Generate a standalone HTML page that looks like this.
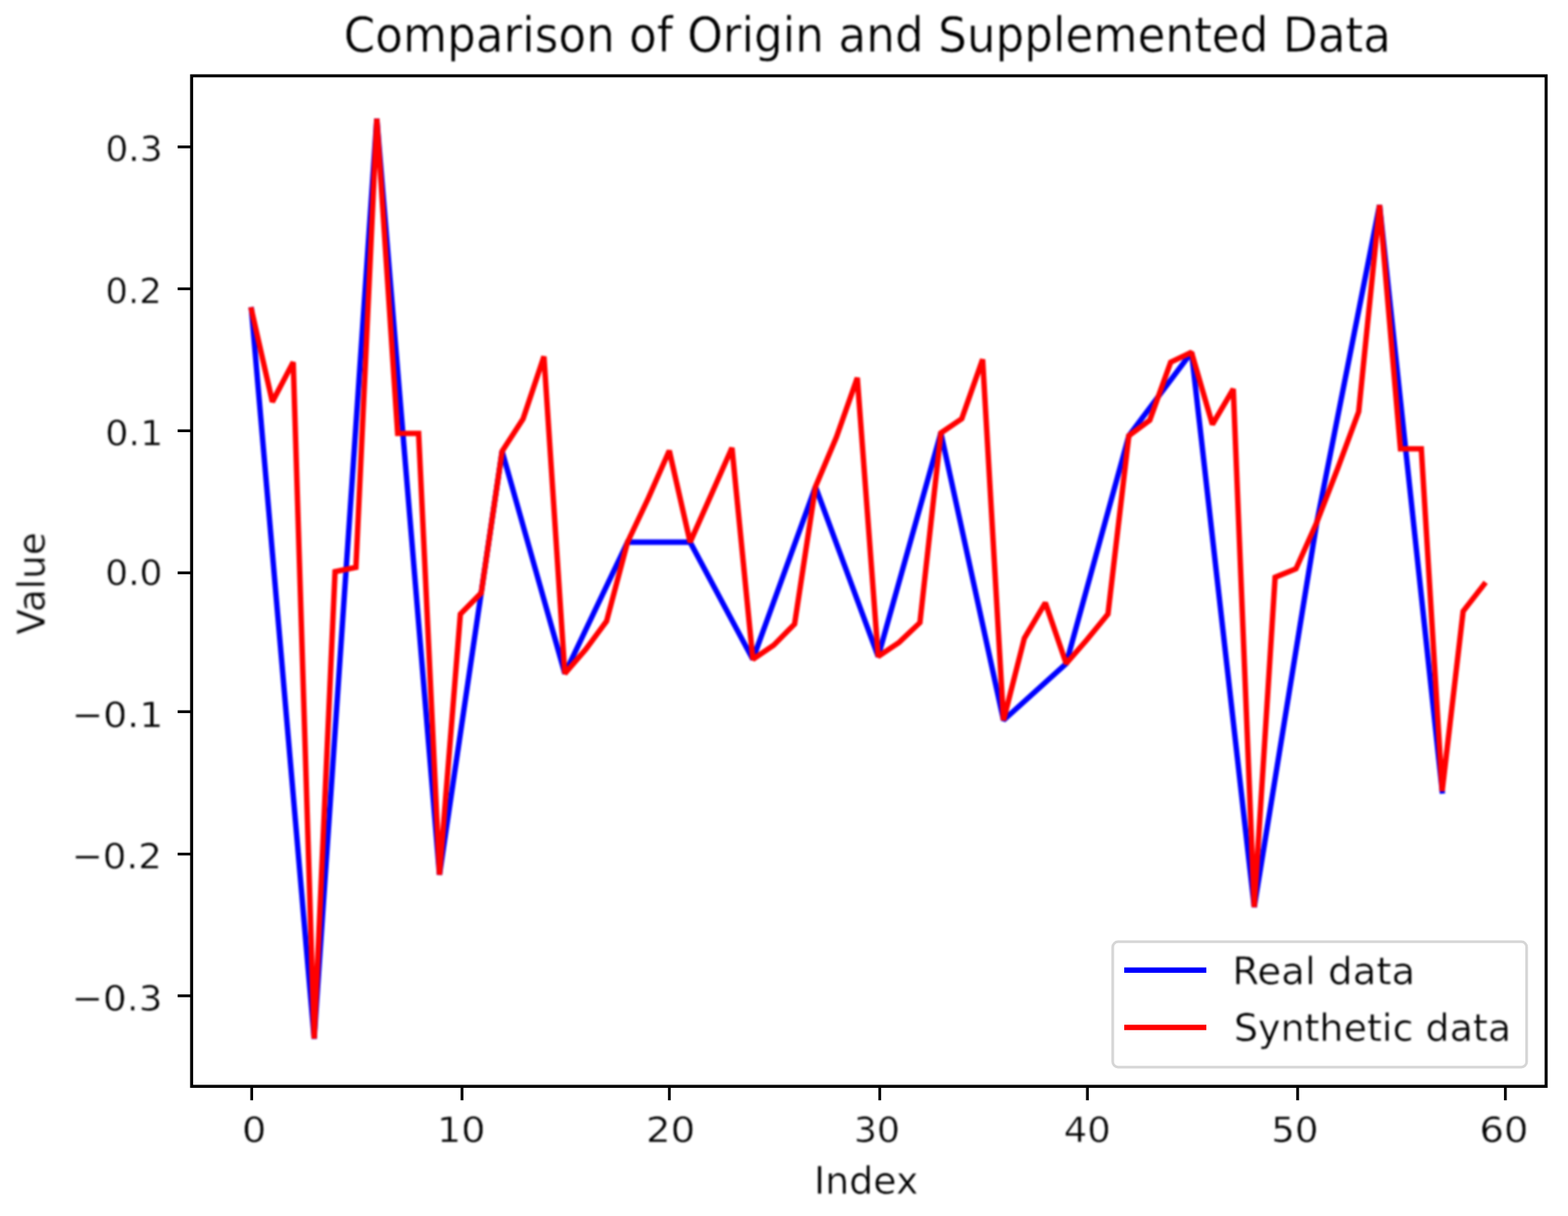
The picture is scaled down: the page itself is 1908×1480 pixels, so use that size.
<!DOCTYPE html>
<html lang="en">
<head>
<meta charset="utf-8">
<title>Comparison of Origin and Supplemented Data</title>
<style>
html,body{margin:0;padding:0;background:#fff;}
body{width:1908px;height:1480px;overflow:hidden;}
svg{display:block;}
text{font-family:"DejaVu Sans","Liberation Sans",sans-serif;fill:#000000;stroke:#ffffff;stroke-width:0.60px;stroke-linejoin:round;paint-order:fill stroke;}
</style>
</head>
<body>
<svg width="1908" height="1480" viewBox="0 0 1908 1480" role="img" aria-label="Comparison of Origin and Supplemented Data">
<defs>
<clipPath id="axclip"><rect x="233.20" y="92.30" width="1648.20" height="1229.90"/></clipPath>
<filter id="soft" filterUnits="userSpaceOnUse" x="-20" y="-20" width="1948" height="1520" color-interpolation-filters="sRGB"><feGaussianBlur stdDeviation="1.10"/></filter>
<filter id="soft2" filterUnits="userSpaceOnUse" x="-20" y="-20" width="1948" height="1520" color-interpolation-filters="sRGB"><feGaussianBlur stdDeviation="0.70"/></filter>
</defs>
<rect x="0" y="0" width="1908" height="1480" fill="#ffffff"/>
<g filter="url(#soft)">
<g clip-path="url(#axclip)" fill="none" stroke-linejoin="miter" stroke-miterlimit="1.5" stroke-linecap="square" stroke-width="6.60">
<polyline points="306.0,377.1 382.3,1264.2 458.5,144.5 534.8,1064.7 611.0,549.3 687.3,819.8 763.6,659.9 839.8,659.9 916.1,802.5 992.3,592.4 1068.6,799.1 1144.9,526.9 1221.1,876.6 1297.4,807.7 1373.6,530.4 1449.9,428.8 1526.2,1104.0 1602.4,635.5 1678.7,249.6 1754.9,962.7" stroke="#0000ff"/>
<polyline points="306.0,377.1 331.4,489.1 356.8,440.8 382.3,1264.2 407.7,695.8 433.1,690.6 458.5,144.5 483.9,527.5 509.4,527.5 534.8,1064.7 560.2,747.4 585.6,721.6 611.0,549.3 636.5,509.7 661.9,433.9 687.3,819.8 712.7,790.5 738.1,756.0 763.6,659.9 789.0,606.2 814.4,548.5 839.8,659.9 865.2,602.7 890.7,545.0 916.1,802.5 941.5,785.3 966.9,759.5 992.3,592.4 1017.8,532.1 1043.2,459.8 1068.6,799.1 1094.0,781.9 1119.4,757.8 1144.9,526.9 1170.3,509.7 1195.7,437.4 1221.1,876.6 1246.5,776.7 1272.0,733.6 1297.4,807.7 1322.8,778.4 1348.2,747.4 1373.6,530.4 1399.1,511.4 1424.5,440.8 1449.9,428.8 1475.3,516.6 1500.7,473.5 1526.2,1104.0 1551.6,702.6 1577.0,692.3 1602.4,635.5 1627.8,570.0 1653.3,501.1 1678.7,249.6 1704.1,546.2 1729.5,546.2 1754.9,962.7 1780.4,744.0 1805.8,711.3" stroke="#ff0000"/>
</g>
</g>
<g filter="url(#soft2)">
<g stroke="#000" stroke-width="3.40">
<line x1="306.30" y1="1322.20" x2="306.30" y2="1339.20"/>
<line x1="562.20" y1="1322.20" x2="562.20" y2="1339.20"/>
<line x1="814.50" y1="1322.20" x2="814.50" y2="1339.20"/>
<line x1="1070.50" y1="1322.20" x2="1070.50" y2="1339.20"/>
<line x1="1323.20" y1="1322.20" x2="1323.20" y2="1339.20"/>
<line x1="1579.00" y1="1322.20" x2="1579.00" y2="1339.20"/>
<line x1="1831.80" y1="1322.20" x2="1831.80" y2="1339.20"/>
<line x1="216.20" y1="178.80" x2="233.20" y2="178.80"/>
<line x1="216.20" y1="351.50" x2="233.20" y2="351.50"/>
<line x1="216.20" y1="524.30" x2="233.20" y2="524.30"/>
<line x1="216.20" y1="697.20" x2="233.20" y2="697.20"/>
<line x1="216.20" y1="866.20" x2="233.20" y2="866.20"/>
<line x1="216.20" y1="1039.50" x2="233.20" y2="1039.50"/>
<line x1="216.20" y1="1212.00" x2="233.20" y2="1212.00"/>
</g>
<rect x="1354.0" y="1146.2" width="503.7" height="152.6" rx="6.6" ry="6.6" fill="#ffffff" fill-opacity="0.8" stroke="#cccccc" stroke-opacity="0.8" stroke-width="3.3"/>
<line x1="1368.0" y1="1180.8" x2="1467.9" y2="1180.8" stroke="#0000ff" stroke-width="6.60"/>
<line x1="1368.0" y1="1250.5" x2="1467.9" y2="1250.5" stroke="#ff0000" stroke-width="6.60"/>
<rect x="233.20" y="92.30" width="1648.20" height="1229.90" fill="none" stroke="#000" stroke-width="3.70"/>
</g>
<g filter="url(#soft)">
<text transform="translate(418.15,63.10) scale(0.9502,1)" font-size="58.00">Comparison of Origin and Supplemented Data</text>
<text transform="translate(294.48,1389.80) scale(1.0727,1)" font-size="43.40">0</text>
<text transform="translate(531.66,1389.80) scale(1.0681,1)" font-size="43.40">10</text>
<text transform="translate(785.94,1389.80) scale(1.0878,1)" font-size="43.40">20</text>
<text transform="translate(1038.94,1389.80) scale(1.0204,1)" font-size="43.40">30</text>
<text transform="translate(1294.43,1389.80) scale(1.0360,1)" font-size="43.40">40</text>
<text transform="translate(1547.09,1389.80) scale(1.0367,1)" font-size="43.40">50</text>
<text transform="translate(1800.15,1389.80) scale(1.0837,1)" font-size="43.40">60</text>
<text transform="translate(128.16,196.40) scale(1.0127,1)" font-size="43.40">0.3</text>
<text transform="translate(128.21,369.20) scale(0.9968,1)" font-size="43.40">0.2</text>
<text transform="translate(127.92,542.10) scale(1.0258,1)" font-size="43.40">0.1</text>
<text transform="translate(127.97,711.80) scale(1.0111,1)" font-size="43.40">0.0</text>
<text transform="translate(86.89,884.60) scale(1.0625,1)" font-size="43.40">−0.1</text>
<text transform="translate(86.98,1057.30) scale(1.0448,1)" font-size="43.40">−0.2</text>
<text transform="translate(86.94,1229.80) scale(1.0515,1)" font-size="43.40">−0.3</text>
<text transform="translate(990.51,1453.00) scale(0.9983,1)" font-size="46.20">Index</text>
<text transform="translate(54.40,772.48) rotate(-90) scale(0.9829,1)" font-size="46.20">Value</text>
<text transform="translate(1499.50,1197.80) scale(1.0201,1)" font-size="46.20">Real data</text>
<text transform="translate(1501.39,1267.30) scale(1.0018,1)" font-size="46.20">Synthetic data</text>
</g>
</svg>
</body>
</html>
